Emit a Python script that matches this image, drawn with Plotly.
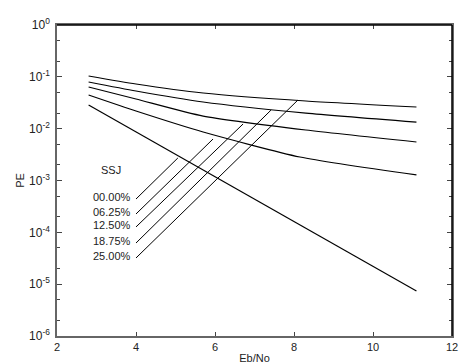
import math
import plotly.graph_objects as go

# Curves PE vs Eb/No (five curves, top to bottom)
curve_x = [2.8, 4.0, 5.7, 8.3, 11.1]
curve1 = [0.1038, 0.0728, 0.0488, 0.0342, 0.0262]
curve2 = [0.0795, 0.0533, 0.0327, 0.0200, 0.0134]
curve3 = [0.0637, 0.0374, 0.0175, 0.00942, 0.00553]
curve4_x = [2.8, 4.0, 5.7, 8.15, 11.1]
curve4 = [0.0446, 0.0219, 0.00862, 0.00284, 0.00128]
curve5_x = [2.8, 11.1]
curve5 = [0.0286, 7.4e-6]

# SSJ diagonal lines
ssj_labels = ["00.00%", "06.25%", "12.50%", "18.75%", "25.00%"]
ssj_x0 = [4.0, 4.0, 4.0, 4.0, 4.0]
ssj_y0 = [4.39e-4, 2.26e-4, 1.27e-4, 6.22e-5, 3.2e-5]
ssj_x1 = [5.06, 5.95, 6.71, 7.42, 8.10]
ssj_y1 = [2.72e-3, 6.31e-3, 0.0123, 0.0229, 0.0357]

y_tickvals = [1e-6, 1e-5, 1e-4, 1e-3, 1e-2, 1e-1, 1]
y_ticktext = ["10<sup>-6</sup>", "10<sup>-5</sup>", "10<sup>-4</sup>", "10<sup>-3</sup>",
              "10<sup>-2</sup>", "10<sup>-1</sup>", "10<sup>0</sup>"]
x_tickvals = [2, 4, 6, 8, 10, 12]

fig = go.Figure()
for xs, ys in [(curve_x, curve1), (curve_x, curve2), (curve_x, curve3), (curve4_x, curve4)]:
    fig.add_trace(go.Scatter(x=xs, y=ys, mode="lines",
                             line=dict(color="black", width=1.2, shape="spline", smoothing=0.6),
                             showlegend=False))
fig.add_trace(go.Scatter(x=curve5_x, y=curve5, mode="lines",
                         line=dict(color="black", width=1.2), showlegend=False))

for i in range(len(ssj_labels)):
    fig.add_trace(go.Scatter(x=[ssj_x0[i], ssj_x1[i]], y=[ssj_y0[i], ssj_y1[i]],
                             mode="lines", line=dict(color="black", width=1.0), showlegend=False))
    fig.add_annotation(x=3.93, y=math.log10(ssj_y0[i]) + 0.04, xref="x", yref="y",
                       text=ssj_labels[i], showarrow=False, xanchor="right", yanchor="middle",
                       font=dict(size=11, color="#222"))

fig.add_annotation(x=3.37, y=math.log10(1.6e-3), xref="x", yref="y",
                   text="SSJ", showarrow=False, font=dict(size=11, color="#222"))

axis_font = dict(family="Liberation Sans, Arial, sans-serif", size=11, color="#222")

fig.update_layout(
    width=474, height=364,
    margin=dict(l=49, r=30, t=17, b=36, autoexpand=False),
    plot_bgcolor="white", paper_bgcolor="white",
    font=axis_font,
    xaxis=dict(range=[2, 12], tickvals=x_tickvals, ticks="inside", ticklen=4,
               showgrid=False, zeroline=False, showline=True, linecolor="#666", linewidth=1.5,
               mirror="ticks", automargin=False,
               title=dict(text="Eb/No", standoff=2, font=dict(size=11))),
    yaxis=dict(type="log", range=[-6, 0], tickvals=y_tickvals, ticktext=y_ticktext,
               ticks="inside", ticklen=5, showgrid=False, zeroline=False, showline=True,
               linecolor="#666", linewidth=1.5, mirror="ticks", automargin=False,
               tickfont=dict(size=12), ticklabelstandoff=3,
               minor=dict(ticks="inside", ticklen=3, tickcolor="#444", showgrid=False),
               title=dict(text="PE", standoff=2, font=dict(size=11))),
)
# darker top/right frame
fig.add_shape(type="line", xref="paper", yref="paper", x0=0, x1=1, y0=1, y1=1,
              line=dict(color="black", width=1.5))
fig.add_shape(type="line", xref="paper", yref="paper", x0=1, x1=1, y0=0, y1=1,
              line=dict(color="black", width=1.5))

fig.write_html("out.html")
